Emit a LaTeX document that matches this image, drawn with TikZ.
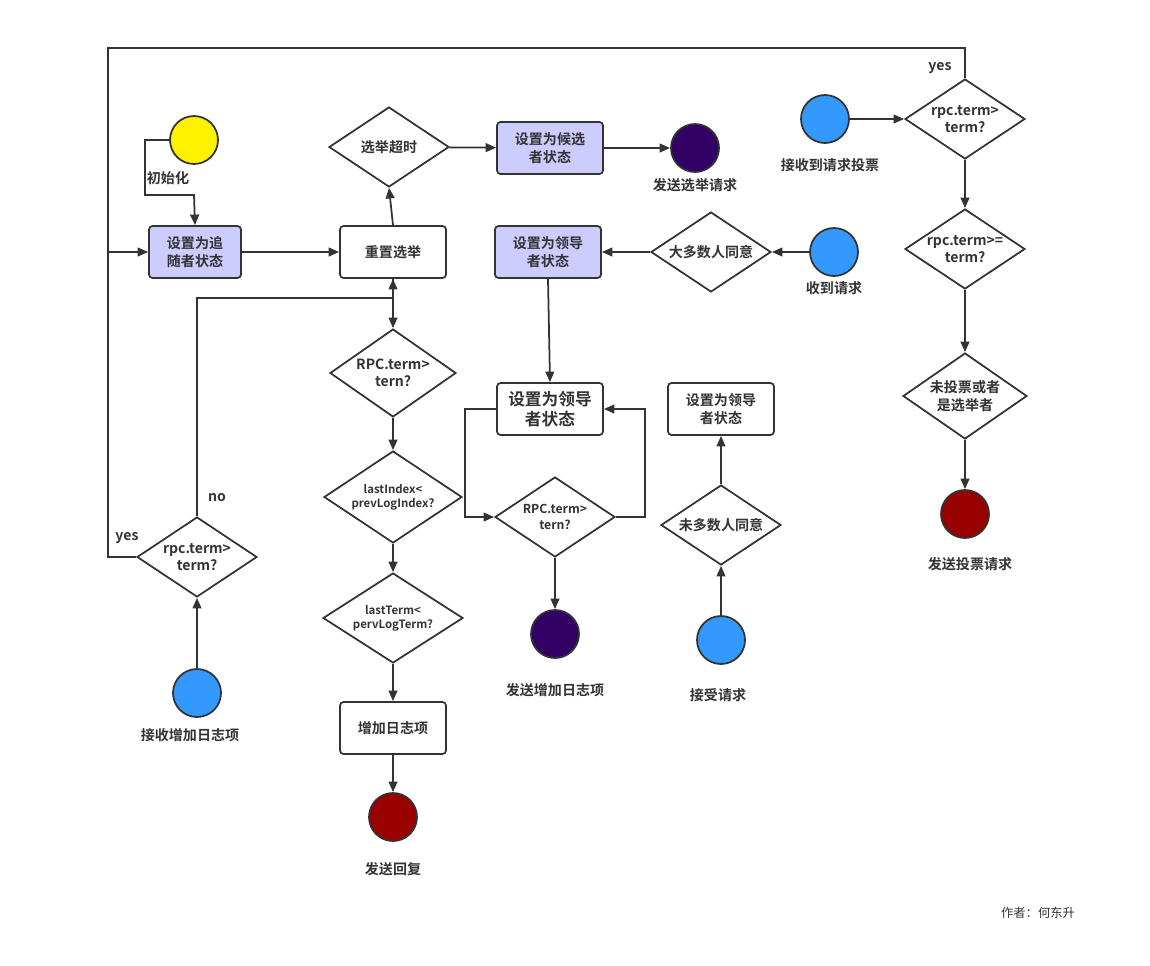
\documentclass[tikz,border=0pt]{standalone}
\usepackage{fontspec}
\setmainfont{Noto Sans CJK SC}[BoldFont={Noto Sans CJK SC Bold}]
\usetikzlibrary{shapes.geometric,arrows.meta}
\definecolor{lblue}{HTML}{CCCCFF}
\definecolor{dpurple}{HTML}{330066}
\definecolor{dred}{HTML}{990000}
\definecolor{sblue}{HTML}{3399FF}
\definecolor{ink}{HTML}{333333}
\begin{document}
\begin{tikzpicture} [
    x=0.02cm, y=-0.02cm,
    line width=1pt,
    draw=ink,
    font=\fontsize{8}{10}\selectfont\bfseries\color{ink},
    >={Triangle[length=6pt,width=5pt]},
  ]

  \tikzstyle{state} = [
    rectangle,
    rounded corners=2pt,
    draw=ink,
    line width=1pt,
    minimum width=2.12cm,
    minimum height=1.04cm,
    align=center,
  ]
  \tikzstyle{fstate} = [
    state,
    fill=lblue,
    minimum width=1.84cm,
  ]
  \tikzstyle{check} = [
    diamond,
    draw=ink,
    line width=1pt,
    aspect=1.5,
    inner sep=0pt,
    minimum width=2.4cm,
    minimum height=1.6cm,
    align=center,
  ]
  \tikzstyle{dot} = [
    circle,
    draw=ink,
    line width=1pt,
    minimum size=0.96cm,
  ]
  \tikzstyle{lbl} = [
    inner sep=1pt,
  ]
  \tikzstyle{line} = [
    ink,
    line width=1pt,
  ]

  \useasboundingbox (0,0) rectangle (1150,965);

  % top row
  \node[dot,fill=yellow]                     (init)    at (194,140) {};
  \node[fstate]                              (follow)  at (195,252) {设置为追\\随者状态};
  \node[state]                               (reset)   at (393,252) {重置选举};
  \node[check]                               (timeout) at (389,147) {选举超时};
  \node[fstate,minimum width=2.12cm]         (cand)    at (550,148) {设置为候选\\者状态};
  \node[dot,fill=dpurple]                    (select)  at (695,148) {};
  \node[fstate,minimum width=2.12cm]         (lead1)   at (548,252) {设置为领导\\者状态};
  \node[check]                               (major)   at (711,252) {大多数人同意};
  \node[dot,fill=sblue]                      (recv)    at (834,252) {};

  % append entries
  \node[check,minimum width=2.52cm,minimum height=1.76cm] (rpc1) at (393,373) {RPC.term>\\tern?};
  \node[check,minimum width=2.76cm,minimum height=1.84cm,font=\fontsize{6.5}{8}\selectfont\bfseries\color{ink}] (lidx) at (393,497) {lastIndex<\\prevLogIndex?};
  \node[check,minimum width=2.8cm,minimum height=1.8cm,font=\fontsize{6.5}{8}\selectfont\bfseries\color{ink}] (lterm) at (393,618) {lastTerm<\\pervLogTerm?};
  \node[state]                               (append)  at (393,728) {增加日志项};
  \node[dot,fill=dred]                       (reply)   at (393,817) {};

  % leader loop
  \node[state,font=\fontsize{9.5}{11}\selectfont\bfseries\color{ink}] (lead2) at (550,409) {设置为领导\\者状态};
  \node[check,font=\fontsize{7}{9}\selectfont\bfseries\color{ink}] (rpc2) at (555,517) {RPC.term>\\tern?};
  \node[dot,fill=dpurple]                    (sappend) at (555,634) {};
  \node[state]                               (lead3)   at (721,409) {设置为领导\\者状态};
  \node[check]                               (minor)   at (721,525) {未多数人同意};
  \node[dot,fill=sblue]                      (accept)  at (721,640) {};

  % follower check
  \node[check]                               (rpc3)    at (197,557) {rpc.term>\\term?};
  \node[dot,fill=sblue]                      (rappend) at (197,693) {};

  % vote branch
  \node[dot,fill=sblue]                      (rvote)   at (825,119) {};
  \node[check]                               (rv1)     at (965,119) {rpc.term>\\term?};
  \node[check]                               (rv2)     at (965,249) {rpc.term>=\\term?};
  \node[check,minimum width=2.48cm,minimum height=1.72cm] (rv3) at (965,396) {未投票或者\\是选举者};
  \node[dot,fill=dred]                       (svote)   at (965,514) {};

  % labels
  \node[lbl] (linit)   at (168,178) {初始化};
  \node[lbl] (lselect) at (695,185) {发送选举请求};
  \node[lbl] (lrecv)   at (834,288) {收到请求};
  \node[lbl] (lreply)  at (393,869) {发送回复};
  \node[lbl] (lsapp)   at (555,690) {发送增加日志项};
  \node[lbl] (lacc)    at (718,695) {接受请求};
  \node[lbl] (lrapp)   at (190,735) {接收增加日志项};
  \node[lbl] (lrvote)  at (830,165) {接收到请求投票};
  \node[lbl] (lsvote)  at (970,564) {发送投票请求};
  \node[lbl,font=\fontsize{7}{9}\selectfont\color{ink}] (author) at (1038,913) {作者：何东升};
  \node[lbl] (lyes1)   at (940,68)  {yes};
  \node[lbl] (lyes2)   at (127,538) {yes};
  \node[lbl] (lno)     at (217,498) {no};

  \coordinate (lj) at (108,252);

  % connectors
  \draw[line,->] (init.west) -- (145,140) -- (145,195) -- (194,195) -- (follow.north);
  \draw[line,->] (follow) -- (reset);
  \draw[line,->] (reset.north) -- (timeout.south);
  \draw[line,->] (timeout) -- (cand);
  \draw[line,->] (cand) -- (select);
  \draw[line,->] (recv) -- (major);
  \draw[line,->] (major) -- (lead1);
  \draw[line,->] (lead1.south) -- (lead2.north);
  \draw[line,->] (rv1.north) -- (965,48) -- (108,48) -- (lj) -- (follow.west);
  \draw[line] (rpc3.west) -- (108,557) -- (lj);
  \draw[line,->] (rpc3.north) -- (197,298) -- (393,298) -- (reset.south);
  \draw[line,->] (reset.south) -- (rpc1.north);
  \draw[line,->] (rpc1) -- (lidx);
  \draw[line,->] (lidx) -- (lterm);
  \draw[line,->] (lterm) -- (append);
  \draw[line,->] (append) -- (reply);
  \draw[line,->] (lead2.west) -- (465,409) -- (465,517) -- (rpc2.west);
  \draw[line,->] (rpc2.east) -- (645,517) -- (645,409) -- (lead2.east);
  \draw[line,->] (rpc2) -- (sappend);
  \draw[line,->] (accept) -- (minor);
  \draw[line,->] (minor) -- (lead3);
  \draw[line,->] (rappend) -- (rpc3);
  \draw[line,->] (rvote) -- (rv1);
  \draw[line,->] (rv1) -- (rv2);
  \draw[line,->] (rv2) -- (rv3);
  \draw[line,->] (rv3) -- (svote);

\end{tikzpicture}
\end{document}
